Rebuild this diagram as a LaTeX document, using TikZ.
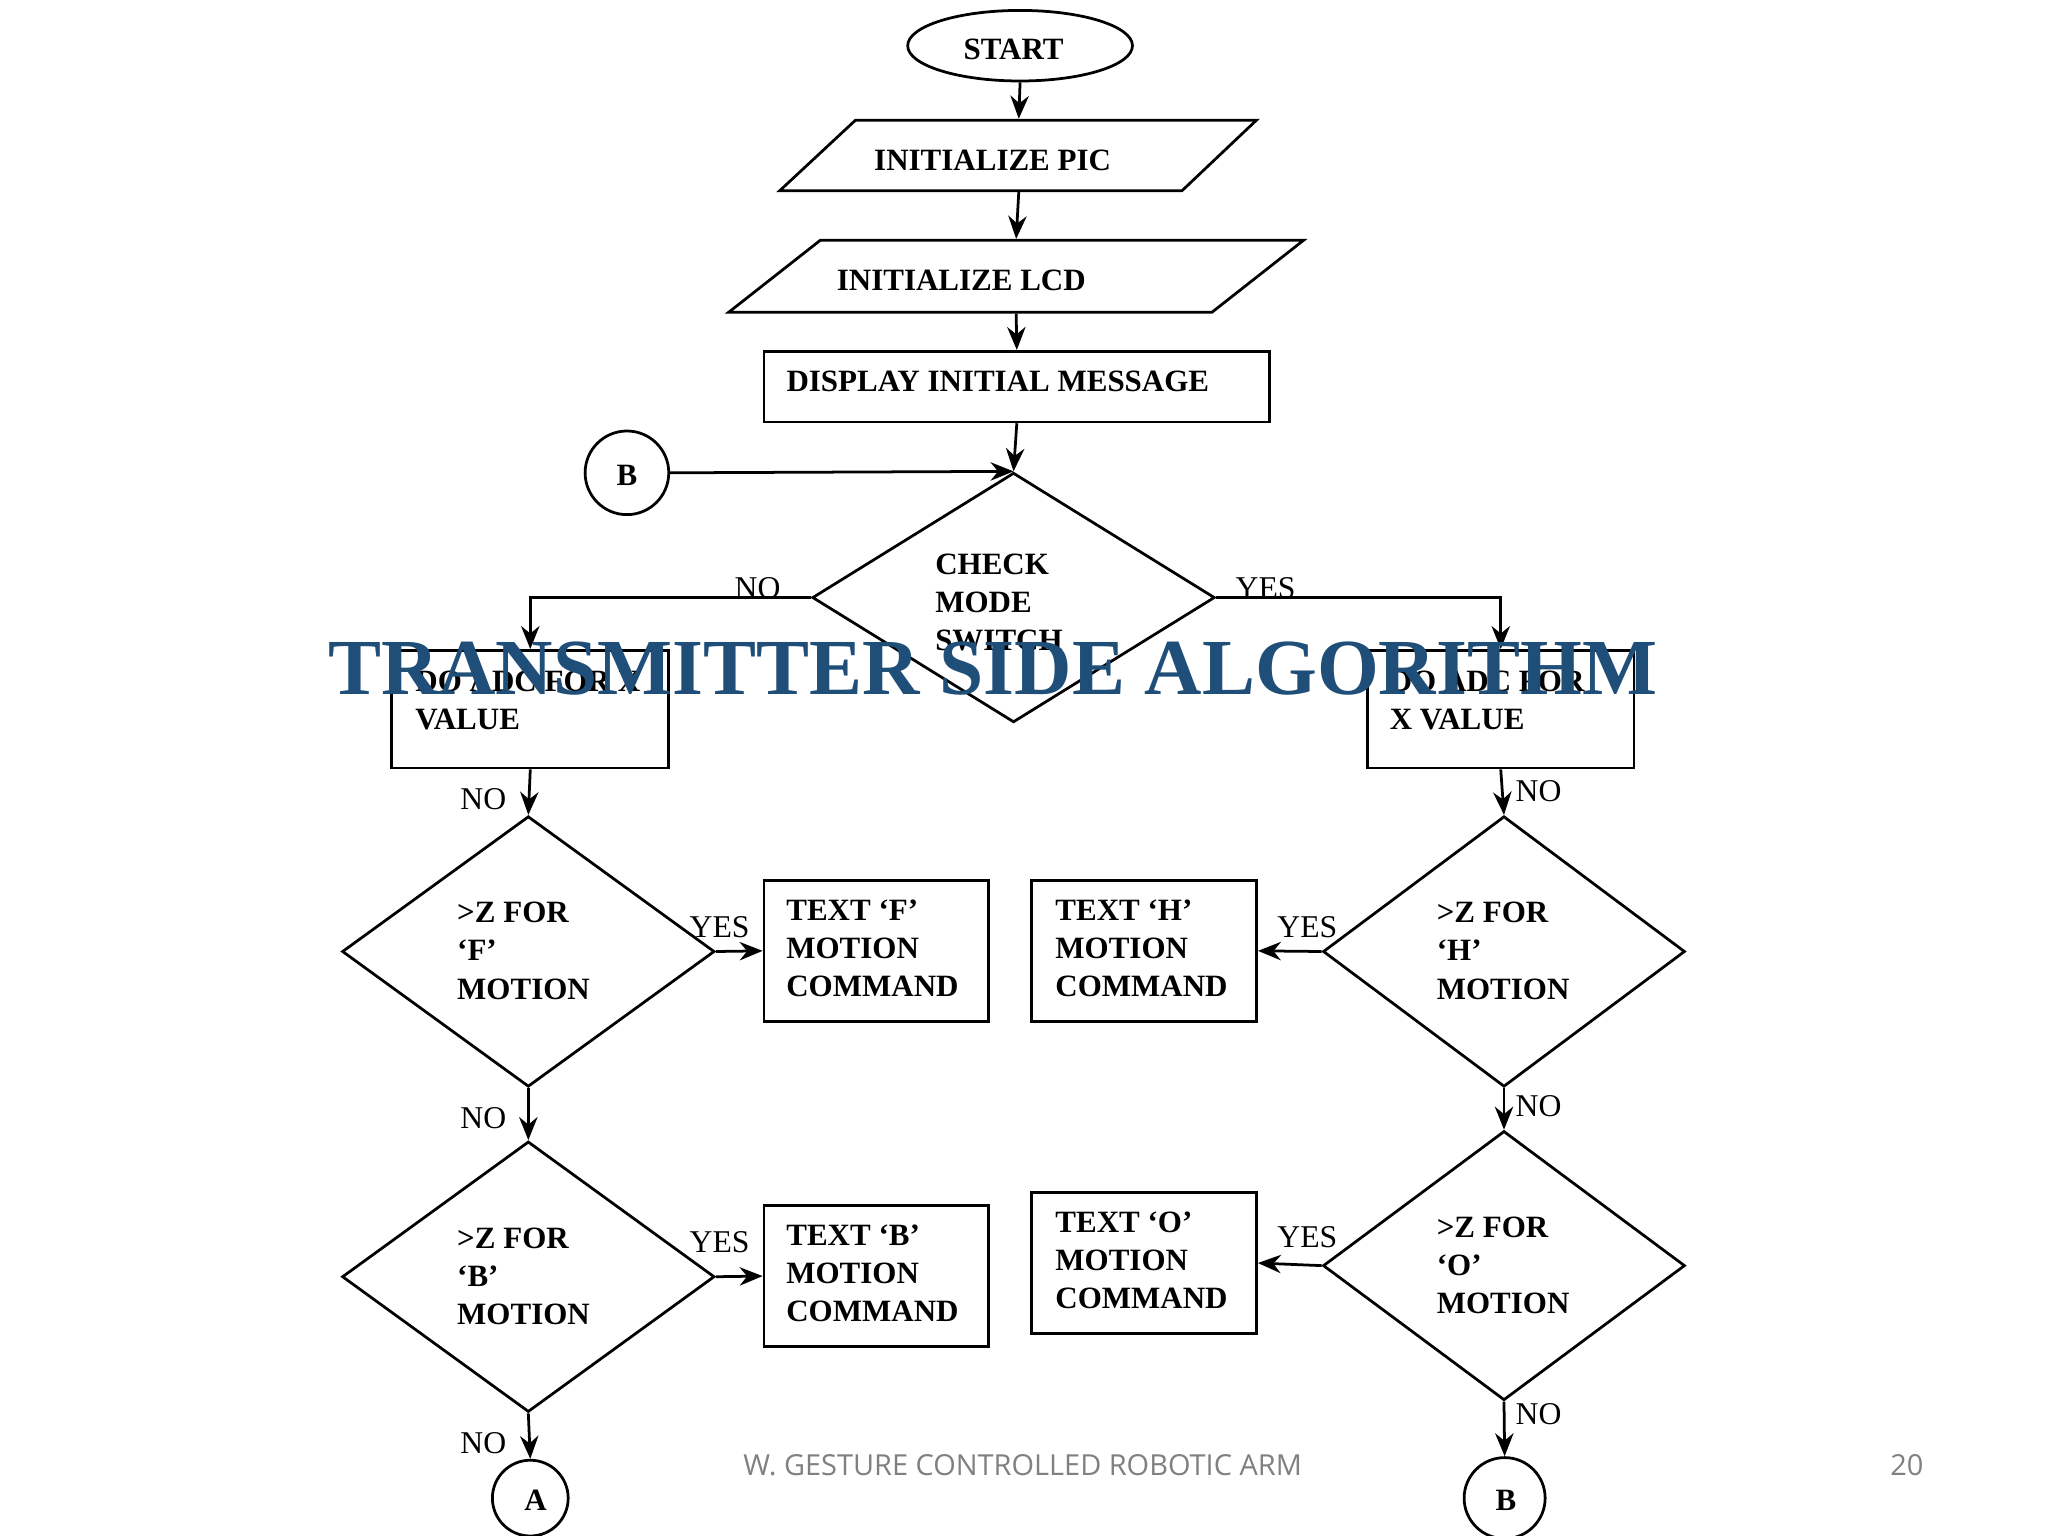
\documentclass[tikz,border=0pt]{standalone}
\usepackage{fontspec}
\setmainfont{Liberation Serif}
\newfontfamily\footfont{Open Sans}
\usetikzlibrary{shapes.geometric,arrows.meta}
\definecolor{titleblue}{RGB}{31,78,121}
\begin{document}
\begin{tikzpicture}[x=0.01cm,y=-0.01cm,
  line width=0.6pt,
  txt/.style={font=\fontsize{6.75}{8.3}\selectfont\bfseries,align=left,inner sep=0},
  lbl/.style={font=\fontsize{6.9}{8.4}\selectfont,inner sep=0},
  box/.style={draw,rectangle,inner sep=0},
  dia/.style={draw,diamond,inner sep=0},
  arr/.style={-{Stealth[length=5pt,width=4pt]}}]
\useasboundingbox (0,0) rectangle (1568,1176);
\fill[white] (0,0) rectangle (1568,1176);
% start
\node[draw,ellipse,minimum width=1.72cm,minimum height=0.54cm,inner sep=0] (start) at (781,35) {};
\node[txt] at (776,38) {START};
% parallelograms
\draw (655,92) -- (962,92) -- (905,146) -- (597,146) -- cycle;
\node[minimum width=3.08cm,minimum height=0.54cm,inner sep=0] (pic) at (780,119) {};
\node[txt] at (760,123) {INITIALIZE PIC};
\draw (628,184) -- (998,184) -- (928,239) -- (558,239) -- cycle;
\node[minimum width=3.7cm,minimum height=0.55cm,inner sep=0] (lcd) at (778,211.5) {};
\node[txt] at (736,215) {INITIALIZE LCD};
\node[box,minimum width=3.87cm,minimum height=0.54cm] (disp) at (778.5,296) {};
\node[txt] at (764,292) {DISPLAY INITIAL MESSAGE};
\node[draw,circle,minimum size=0.64cm,inner sep=0] (bc) at (480,362) {};
\node[txt] at (480,364) {B};
% check
\node[dia,minimum width=3.08cm,minimum height=1.91cm] (chk) at (776,457.5) {};
\node[txt,anchor=west] at (715,461) {CHECK\\MODE\\SWITCH};
\node[box,minimum width=2.12cm,minimum height=0.9cm] (lbox) at (406,543) {};
\node[txt,anchor=west] at (317,536) {DO ADC FOR X\\VALUE};
\node[box,minimum width=2.04cm,minimum height=0.9cm] (rbox) at (1149,543) {};
\node[txt,anchor=west] at (1063,536) {DO ADC FOR\\X VALUE};
% diamonds
\node[dia,minimum width=2.85cm,minimum height=2.07cm] (df) at (404.5,728.5) {};
\node[txt,anchor=west] at (349,728) {>Z FOR\\‘F’\\MOTION};
\node[dia,minimum width=2.85cm,minimum height=2.07cm] (db) at (404.5,977.5) {};
\node[txt,anchor=west] at (349,977) {>Z FOR\\‘B’\\MOTION};
\node[dia,minimum width=2.77cm,minimum height=2.07cm] (dh) at (1151.5,728.5) {};
\node[txt,anchor=west] at (1099,728) {>Z FOR\\‘H’\\MOTION};
\node[dia,minimum width=2.77cm,minimum height=2.06cm] (do) at (1151.5,969) {};
\node[txt,anchor=west] at (1099,969) {>Z FOR\\‘O’\\MOTION};
% text boxes
\node[box,minimum width=1.72cm,minimum height=1.08cm] (tf) at (671,728) {};
\node[txt,anchor=west] at (601,726) {TEXT ‘F’\\MOTION\\COMMAND};
\node[box,minimum width=1.72cm,minimum height=1.08cm] (th) at (876,728) {};
\node[txt,anchor=west] at (807,726) {TEXT ‘H’\\MOTION\\COMMAND};
\node[box,minimum width=1.72cm,minimum height=1.08cm] (tb) at (671,977) {};
\node[txt,anchor=west] at (601,975) {TEXT ‘B’\\MOTION\\COMMAND};
\node[box,minimum width=1.72cm,minimum height=1.08cm] (to) at (876,967) {};
\node[txt,anchor=west] at (807,965) {TEXT ‘O’\\MOTION\\COMMAND};
\node[draw,circle,minimum size=0.58cm,inner sep=0] (ca) at (406,1147) {};
\node[txt] at (410,1149) {A};
\node[draw,circle,minimum size=0.62cm,inner sep=0] (cb) at (1152,1147) {};
\node[txt] at (1153,1149) {B};
% connectors
\draw[arr] (start.south) -- (pic.north);
\draw[arr] (pic.south) -- (lcd.north);
\draw[arr] (lcd.south) -- (disp.north);
\draw[arr] (disp.south) -- (chk.north);
\draw[arr] (bc.east) -- (chk.north);
\draw[arr] (chk.west) -| (lbox.north);
\draw[arr] (chk.east) -| (rbox.north);
\draw[arr] (lbox.south) -- (df.north);
\draw[arr] (df.east) -- (tf.west);
\draw[arr] (df.south) -- (db.north);
\draw[arr] (db.east) -- (tb.west);
\draw[arr] (db.south) -- (ca.north);
\draw[arr] (rbox.south) -- (dh.north);
\draw[arr] (dh.west) -- (th.east);
\draw[arr] (dh.south) -- (do.north);
\draw[arr] (do.west) -- (to.east);
\draw[arr] (do.south) -- (cb.north);
% labels
\node[lbl] at (580,450) {NO};
\node[lbl] at (969,450) {YES};
\node[lbl] at (370,612) {NO};
\node[lbl] at (551,710) {YES};
\node[lbl] at (370,856) {NO};
\node[lbl] at (551,951) {YES};
\node[lbl] at (370,1105) {NO};
\node[lbl] at (1178,606) {NO};
\node[lbl] at (1001,710) {YES};
\node[lbl] at (1178,847) {NO};
\node[lbl] at (1001,947) {YES};
\node[lbl] at (1178,1083) {NO};
% title and footer
\node[font=\fontsize{17.3}{20}\selectfont\bfseries,text=titleblue,inner sep=0] (title) at (760,512) {TRANSMITTER SIDE ALGORITHM};
\node[font=\footfont\fontsize{6.3}{7.5}\selectfont,text=gray,inner sep=0] (foot) at (783,1122) {W. GESTURE CONTROLLED ROBOTIC ARM};
\node[font=\footfont\fontsize{6.3}{7.5}\selectfont,text=gray,inner sep=0] (pg) at (1460,1122) {20};
\end{tikzpicture}
\end{document}
